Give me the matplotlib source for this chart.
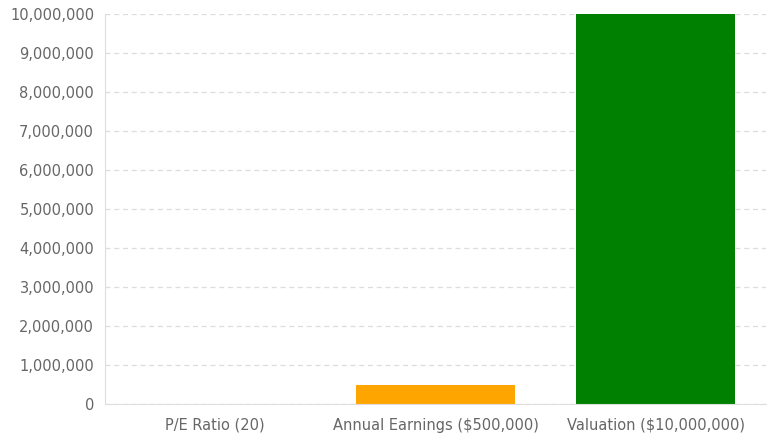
import matplotlib
matplotlib.use("Agg")
import matplotlib.pyplot as plt

categories = ["P/E Ratio (20)", "Annual Earnings ($500,000)", "Valuation ($10,000,000)"]
values = [20, 500000, 10000000]
colors = ["#4e79a7", "#FFA500", "#008000"]

fig = plt.figure(figsize=(7.68, 4.45), dpi=100)
ax = fig.add_axes([0.137, 0.092, 0.860, 0.877])

ax.bar(range(len(categories)), values, width=0.72, color=colors)

ax.set_xlim(-0.5, len(categories) - 0.5)
ax.set_ylim(0, 10000000)
ax.set_yticks(range(0, 10000001, 1000000))
ax.set_yticklabels([f"{v:,}" for v in range(0, 10000001, 1000000)])
ax.set_xticks(range(len(categories)))
ax.set_xticklabels(categories)

ax.grid(axis="y", color="#dddddd", linestyle=(0, (4, 3)), linewidth=0.9)
ax.set_axisbelow(True)
for side in ["top", "right"]:
    ax.spines[side].set_visible(False)
for side in ["left", "bottom"]:
    ax.spines[side].set_color("#dddddd")
ax.tick_params(axis="both", colors="#666666", labelsize=10.5, length=0, pad=8)
ax.tick_params(axis="x", pad=10)

fig.savefig("out.png", dpi=100)
